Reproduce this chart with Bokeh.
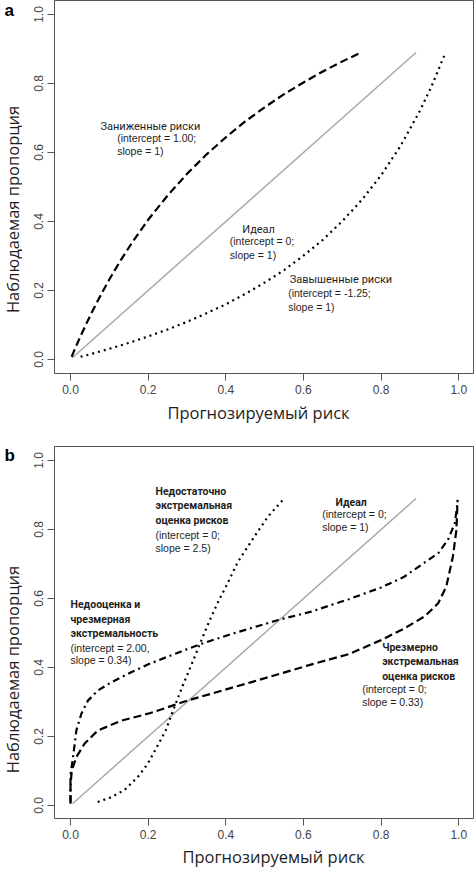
from bokeh.plotting import figure
from bokeh.models import FixedTicker, PrintfTickFormatter, Label, Range1d
from bokeh.layouts import column, row
from bokeh.embed import file_html
from bokeh.resources import INLINE
import math

# ---------------- data ----------------
tick_values = [0.0, 0.2, 0.4, 0.6, 0.8, 1.0]

ideal_x = [0.005, 0.89]
ideal_y = [0.005, 0.89]

# panel a: under-estimated risks (dashed)
a_under_x = [0.003, 0.01, 0.02, 0.04, 0.06, 0.08, 0.10, 0.13, 0.16, 0.20, 0.25, 0.30,
             0.35, 0.40, 0.45, 0.50, 0.55, 0.60, 0.65, 0.70, 0.75]
a_under_y = [0.008, 0.027, 0.053, 0.102, 0.148, 0.191, 0.232, 0.289, 0.341, 0.405, 0.475, 0.538,
             0.594, 0.644, 0.690, 0.731, 0.769, 0.803, 0.835, 0.864, 0.891]
# panel a: over-estimated risks (dotted)
a_over_x = [0.026, 0.05, 0.10, 0.15, 0.20, 0.25, 0.30, 0.35, 0.40, 0.45, 0.50, 0.55,
            0.60, 0.65, 0.70, 0.75, 0.80, 0.85, 0.90, 0.93, 0.966]
a_over_y = [0.008, 0.015, 0.031, 0.048, 0.067, 0.087, 0.109, 0.134, 0.160, 0.190, 0.223, 0.259,
            0.301, 0.347, 0.401, 0.462, 0.534, 0.619, 0.721, 0.792, 0.890]

# panel b: not extreme enough (dotted)
b_weak_x = [0.07, 0.105, 0.139, 0.173, 0.199, 0.225, 0.245, 0.271, 0.29, 0.309, 0.335, 0.356,
            0.378, 0.405, 0.431, 0.474, 0.509, 0.547]
b_weak_y = [0.01, 0.024, 0.045, 0.082, 0.121, 0.175, 0.217, 0.295, 0.35, 0.401, 0.473, 0.53,
            0.585, 0.645, 0.706, 0.78, 0.838, 0.886]
# panel b: underestimation and over-extremity (dash-dot)
b_under_x = [0.0, 0.0, 0.006, 0.015, 0.028, 0.045, 0.07, 0.105, 0.156, 0.206, 0.27, 0.335,
             0.423, 0.533, 0.62, 0.717, 0.80, 0.858, 0.904, 0.947, 0.972, 0.99, 0.997]
b_under_y = [0.01, 0.09, 0.135, 0.217, 0.266, 0.304, 0.333, 0.357, 0.386, 0.412, 0.44, 0.468,
             0.50, 0.537, 0.562, 0.598, 0.632, 0.662, 0.698, 0.731, 0.77, 0.818, 0.88]
# panel b: too extreme (dashed)
b_extreme_x = [0.0, 0.0, 0.003, 0.015, 0.036, 0.07, 0.131, 0.206, 0.301, 0.464, 0.612, 0.717,
               0.801, 0.861, 0.912, 0.947, 0.968, 0.985, 0.994, 0.997]
b_extreme_y = [0.005, 0.053, 0.101, 0.14, 0.179, 0.217, 0.246, 0.268, 0.304, 0.357, 0.406, 0.439,
               0.48, 0.514, 0.548, 0.586, 0.635, 0.722, 0.799, 0.886]

x_title = "Прогнозируемый риск"
y_title = "Наблюдаемая пропорция"

# annotation text lines: (text, x, y, kind)  kind: "h" heading, "p" parameters
a_notes = [
    ("Заниженные риски", 0.0773, 0.676, "h"),
    ("(intercept = 1.00;", 0.1203, 0.6426, "p"),
    ("slope = 1)", 0.1203, 0.6038, "p"),
    ("Идеал", 0.4422, 0.3759, "h"),
    ("(intercept = 0;", 0.4103, 0.3429, "p"),
    ("slope = 1)", 0.4103, 0.3035, "p"),
    ("Завышенные риски", 0.5648, 0.2310, "h"),
    ("(intercept = -1.25;", 0.5606, 0.1922, "p"),
    ("slope = 1)", 0.5606, 0.1536, "p"),
]
b_notes = [
    ("Недостаточно", 0.2189, 0.9101, "h"),
    ("экстремальная", 0.2189, 0.8687, "h"),
    ("оценка рисков", 0.2189, 0.8261, "h"),
    ("(intercept = 0;", 0.2189, 0.7855, "p"),
    ("slope = 2.5)", 0.2189, 0.7470, "p"),
    ("Идеал", 0.6825, 0.8774, "h"),
    ("(intercept = 0;", 0.6482, 0.8435, "p"),
    ("slope = 1)", 0.6482, 0.8067, "p"),
    ("Недооценка и", 0.0, 0.5817, "h"),
    ("чрезмерная", 0.0, 0.54, "h"),
    ("экстремальность", 0.0, 0.4977, "h"),
    ("(intercept = 2.00,", 0.0, 0.4571, "p"),
    ("slope = 0.34)", 0.0, 0.4203, "p"),
    ("Чрезмерно", 0.8027, 0.4580, "h"),
    ("экстремальная", 0.8027, 0.4165, "h"),
    ("оценка рисков", 0.8027, 0.3739, "h"),
    ("(intercept = 0;", 0.7512, 0.3383, "p"),
    ("slope = 0.33)", 0.7512, 0.2994, "p"),
]

SIDE_W = 22
MAIN_W = 452
FULL_W = SIDE_W + MAIN_W
BOX = "#555555"
TICKLAB = "#444444"
INK = "#1e1e1e"


def make_panel(height, y_range, border_top, border_bottom):
    p = figure(width=MAIN_W, height=height, output_backend="svg", toolbar_location=None,
               x_range=Range1d(-0.0412, 1.038), y_range=y_range,
               min_border_left=32, min_border_right=1,
               min_border_top=border_top, min_border_bottom=border_bottom)
    p.xgrid.visible = False
    p.ygrid.visible = False
    p.outline_line_color = BOX
    p.outline_line_width = 1
    for ax in (p.xaxis[0], p.yaxis[0]):
        ax.ticker = FixedTicker(ticks=tick_values, minor_ticks=[])
        ax.formatter = PrintfTickFormatter(format="%.1f")
        ax.axis_line_color = None
        ax.major_tick_line_color = BOX
        ax.major_tick_out = 7
        ax.major_tick_in = 0
        ax.minor_tick_line_color = None
        ax.major_label_text_font = "Liberation Sans"
        ax.major_label_text_font_size = "12px"
        ax.major_label_text_color = TICKLAB
        ax.major_label_standoff = 4
    p.yaxis[0].major_label_orientation = "vertical"
    p.line(ideal_x, ideal_y, line_color="#a9a9a9", line_width=1.5)
    return p


def add_notes(p, notes, head_bold):
    for txt, x, y, kind in notes:
        if kind == "h":
            p.add_layout(Label(x=x, y=y, text=txt, text_font="Roboto",
                               text_font_size="10.5px" if head_bold else "11px",
                               text_font_style="bold" if head_bold else "normal",
                               text_color=INK, text_baseline="middle", text_align="left"))
        else:
            p.add_layout(Label(x=x, y=y, text=txt, text_font="Liberation Sans",
                               text_font_size="10.5px", text_color=INK,
                               text_baseline="middle", text_align="left"))


def side(height, y_range, border_top, border_bottom, letter, letter_y, ytitle_y):
    # narrow strip left of the y axis; shares the panel's y scale
    s = figure(width=SIDE_W, height=height, output_backend="svg", toolbar_location=None,
               x_range=Range1d(0, SIDE_W), y_range=y_range,
               x_axis_location=None, y_axis_location=None,
               min_border_left=0, min_border_right=0,
               min_border_top=border_top, min_border_bottom=border_bottom)
    s.outline_line_color = None
    s.grid.visible = False
    s.add_layout(Label(x=4, y=letter_y, text=letter, text_font="Liberation Sans",
                       text_font_size="17px", text_font_style="bold", text_color="black",
                       text_align="left", text_baseline="middle"))
    s.add_layout(Label(x=11.5, y=ytitle_y, text=y_title, text_font="Open Sans",
                       text_font_size="16.5px", text_color=INK, angle=math.pi / 2,
                       text_align="center", text_baseline="middle"))
    return s


def strip(height, cx, mid):
    s = figure(width=FULL_W, height=height, output_backend="svg", toolbar_location=None,
               x_range=Range1d(0, FULL_W), y_range=Range1d(0, height),
               x_axis_location=None, y_axis_location=None,
               min_border_left=0, min_border_right=0, min_border_top=0, min_border_bottom=0)
    s.outline_line_color = None
    s.grid.visible = False
    s.add_layout(Label(x=cx, y=height - mid, text=x_title, text_font="Open Sans",
                       text_font_size="16.5px", text_color=INK,
                       text_align="center", text_baseline="middle"))
    return s


# ---------------- panel a ----------------
HA = 402
ya = Range1d(-0.0406, 1.0406)
pa = make_panel(HA, ya, 0, 29)
pa.line(a_under_x, a_under_y, line_color="black", line_width=2.2, line_dash="8 4")
pa.line(a_over_x, a_over_y, line_color="black", line_width=2.2, line_dash="2 4")
add_notes(pa, a_notes, False)
sa = side(HA, ya, 0, 29, "a", 1.013, 0.435)
xa = strip(28, 258, 10)

# ---------------- panel b ----------------
HB = 415
yb = Range1d(-0.0377, 1.0406)
pb = make_panel(HB, yb, 16, 27)
pb.line(b_weak_x, b_weak_y, line_color="black", line_width=2.2, line_dash="2 4")
pb.line(b_under_x, b_under_y, line_color="black", line_width=2.2, line_dash="7 4 2 4")
pb.line(b_extreme_x, b_extreme_y, line_color="black", line_width=2.2, line_dash="8 4")
add_notes(pb, b_notes, True)
sb = side(HB, yb, 16, 27, "b", 1.0145, 0.394)
xb = strip(24, 273, 11)

layout = column(row(sa, pa, spacing=0), xa, row(sb, pb, spacing=0), xb, spacing=0)
open("out.html", "w").write(file_html(layout, INLINE))
